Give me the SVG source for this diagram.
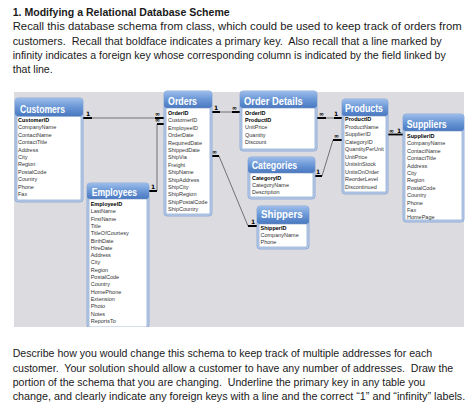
<svg xmlns="http://www.w3.org/2000/svg" width="474" height="411" viewBox="0 0 474 411">
<defs>
<linearGradient id="hg" x1="0" y1="0" x2="0" y2="1">
<stop offset="0" stop-color="#9dbdea"/>
<stop offset="0.5" stop-color="#6a97d6"/>
<stop offset="1" stop-color="#4a78c0"/>
</linearGradient>
<style>
.p{font-family:"Liberation Sans",Arial,sans-serif;font-size:11.2px;fill:#1a1a1a;white-space:pre}
.ps{font-size:10.6px}
.pb{font-family:"Liberation Sans",Arial,sans-serif;font-size:11.2px;font-weight:bold;fill:#1a1a1a}
.frame{fill:#c3d5ee;stroke:#7d9fd2;stroke-width:0.8}
.head{fill:url(#hg)}
.list{fill:#ffffff;stroke:#6f8fbf;stroke-width:0.6}
.ttl{font-family:"Liberation Sans",Arial,sans-serif;font-size:10.5px;font-weight:bold;fill:#ffffff}
.r{font-family:"Liberation Sans",Arial,sans-serif;font-size:5.5px;fill:#333333}
.k{font-family:"Liberation Sans",Arial,sans-serif;font-size:5.5px;font-weight:bold;fill:#000000}
.ln{fill:none;stroke:#555555;stroke-width:0.8}
.th{fill:none;stroke:#000000;stroke-width:1.8}
.m{font-family:"DejaVu Sans",sans-serif;font-size:6px;font-weight:bold;fill:#000000}
</style>
</defs>
<rect width="474" height="411" fill="#ffffff"/>
<g id="intro">
<text class="pb" x="12.7" y="15.5" textLength="217" lengthAdjust="spacingAndGlyphs">1. Modifying a Relational Database Scheme</text>
<text class="p" x="12.7" y="29.5" textLength="449" lengthAdjust="spacingAndGlyphs">Recall this database schema from class, which could be used to keep track of orders from</text>
<text class="p" x="12.7" y="44.5" textLength="429" lengthAdjust="spacingAndGlyphs" xml:space="preserve">customers.  Recall that boldface indicates a primary key.  Also recall that a line marked by</text>
<text class="p" x="12.7" y="58.5" textLength="433" lengthAdjust="spacingAndGlyphs">infinity indicates a foreign key whose corresponding column is indicated by the field linked by</text>
<text class="p" x="12.7" y="72.5" textLength="40" lengthAdjust="spacingAndGlyphs">that line.</text>
</g>
<rect id="canvas" x="14" y="92" width="450" height="235" fill="#dcdce0"/>
<g id="connectors">
<path class="ln" d="M83 118H164"/><path class="th" d="M83 118H92M155 118H164"/>
<text class="m" x="86" y="116">1</text><text class="m" x="155" y="116">∞</text>
<path class="ln" d="M149 191H157V124H164"/><path class="th" d="M149 191H157M157 124H164"/>
<text class="m" x="151" y="189">1</text><text class="m" x="155" y="122">∞</text>
<path class="ln" d="M212 112H240"/><path class="th" d="M212 112H220M232 112H240"/>
<text class="m" x="214" y="110">1</text><text class="m" x="232" y="110">∞</text>
<path class="ln" d="M317 118H342"/><path class="th" d="M317 118H326M334 118H342"/>
<text class="m" x="319" y="116">∞</text><text class="m" x="334" y="116">1</text>
<path class="ln" d="M315 176H322L333 140H342"/><path class="th" d="M315 176H322M333 140H342"/>
<text class="m" x="316" y="174">1</text><text class="m" x="334" y="138">∞</text>
<path class="ln" d="M212 156H219L248 226H257"/><path class="th" d="M212 156H219M248 226H257"/>
<text class="m" x="212" y="154">∞</text><text class="m" x="251" y="224">1</text>
<path class="ln" d="M388 134.5H403"/><path class="th" d="M388 134.5H403"/>
<text class="m" x="389" y="132.5">∞</text><text class="m" x="397" y="132.5">1</text>
</g>
<g id="customers">
<rect class="frame" x="15" y="98" width="68" height="104" rx="3"/>
<rect class="head" x="15" y="98" width="68" height="18" rx="3"/>
<text class="ttl" x="20" y="112.5" textLength="45" lengthAdjust="spacingAndGlyphs">Customers</text>
<rect class="list" x="17" y="116.5" width="64" height="83.5"/>
<text class="k" x="18" y="122">CustomerID</text>
<text class="r" x="18" y="129.4">CompanyName</text>
<text class="r" x="18" y="136.8">ContactName</text>
<text class="r" x="18" y="144.2">ContactTitle</text>
<text class="r" x="18" y="151.6">Address</text>
<text class="r" x="18" y="159">City</text>
<text class="r" x="18" y="166.4">Region</text>
<text class="r" x="18" y="173.8">PostalCode</text>
<text class="r" x="18" y="181.2">Country</text>
<text class="r" x="18" y="188.6">Phone</text>
<text class="r" x="18" y="196">Fax</text>
</g>
<g id="orders">
<rect class="frame" x="164" y="91" width="48" height="125" rx="3"/>
<rect class="head" x="164" y="91" width="48" height="17" rx="3"/>
<text class="ttl" x="168" y="105" textLength="29" lengthAdjust="spacingAndGlyphs">Orders</text>
<rect class="list" x="166" y="108" width="44" height="106"/>
<text class="k" x="168" y="115">OrderID</text>
<text class="r" x="168" y="122.4">CustomerID</text>
<text class="r" x="168" y="129.8">EmployeeID</text>
<text class="r" x="168" y="137.2">OrderDate</text>
<text class="r" x="168" y="144.6">RequiredDate</text>
<text class="r" x="168" y="152">ShippedDate</text>
<text class="r" x="168" y="159.4">ShipVia</text>
<text class="r" x="168" y="166.8">Freight</text>
<text class="r" x="168" y="174.2">ShipName</text>
<text class="r" x="168" y="181.6">ShipAddress</text>
<text class="r" x="168" y="189">ShipCity</text>
<text class="r" x="168" y="196.4">ShipRegion</text>
<text class="r" x="168" y="203.8">ShipPostalCode</text>
<text class="r" x="168" y="211.2">ShipCountry</text>
</g>
<g id="order-details">
<rect class="frame" x="240" y="91" width="77" height="60" rx="3"/>
<rect class="head" x="240" y="91" width="77" height="17" rx="3"/>
<text class="ttl" x="244" y="105" textLength="58.7" lengthAdjust="spacingAndGlyphs">Order Details</text>
<rect class="list" x="242" y="108" width="73" height="41"/>
<text class="k" x="245" y="115">OrderID</text>
<text class="k" x="245" y="122.2">ProductID</text>
<text class="r" x="245" y="129.4">UnitPrice</text>
<text class="r" x="245" y="136.6">Quantity</text>
<text class="r" x="245" y="143.8">Discount</text>
</g>
<g id="products">
<rect class="frame" x="342" y="99" width="46" height="95" rx="3"/>
<rect class="head" x="342" y="99" width="46" height="17" rx="3"/>
<text class="ttl" x="345" y="112" textLength="38" lengthAdjust="spacingAndGlyphs">Products</text>
<rect class="list" x="344" y="116" width="42" height="76"/>
<text class="k" x="345" y="121">ProductID</text>
<text class="r" x="345" y="128.5">ProductName</text>
<text class="r" x="345" y="136">SupplierID</text>
<text class="r" x="345" y="143.5">CategoryID</text>
<text class="r" x="345" y="151">QuantityPerUnit</text>
<text class="r" x="345" y="158.5">UnitPrice</text>
<text class="r" x="345" y="166">UnitsInStock</text>
<text class="r" x="345" y="173.5">UnitsOnOrder</text>
<text class="r" x="345" y="181">ReorderLevel</text>
<text class="r" x="345" y="188.5">Discontinued</text>
</g>
<g id="suppliers">
<rect class="frame" x="403" y="114" width="61" height="108" rx="3"/>
<rect class="head" x="403" y="114" width="61" height="17" rx="3"/>
<text class="ttl" x="406.7" y="128" textLength="40" lengthAdjust="spacingAndGlyphs">Suppliers</text>
<rect class="list" x="405" y="131" width="57" height="89"/>
<text class="k" x="407" y="138">SupplierID</text>
<text class="r" x="407" y="145.4">CompanyName</text>
<text class="r" x="407" y="152.8">ContactName</text>
<text class="r" x="407" y="160.2">ContactTitle</text>
<text class="r" x="407" y="167.6">Address</text>
<text class="r" x="407" y="175">City</text>
<text class="r" x="407" y="182.4">Region</text>
<text class="r" x="407" y="189.8">PostalCode</text>
<text class="r" x="407" y="197.2">Country</text>
<text class="r" x="407" y="204.6">Phone</text>
<text class="r" x="407" y="212">Fax</text>
<text class="r" x="407" y="219.4">HomePage</text>
</g>
<g id="categories">
<rect class="frame" x="248" y="157" width="67" height="42" rx="3"/>
<rect class="head" x="248" y="157" width="67" height="16" rx="3"/>
<text class="ttl" x="251.7" y="169" textLength="45.6" lengthAdjust="spacingAndGlyphs">Categories</text>
<rect class="list" x="250" y="173" width="63" height="24"/>
<text class="k" x="252" y="180">CategoryID</text>
<text class="r" x="252" y="187">CategoryName</text>
<text class="r" x="252" y="194">Description</text>
</g>
<g id="shippers">
<rect class="frame" x="257" y="206" width="52" height="43" rx="3"/>
<rect class="head" x="257" y="206" width="52" height="18" rx="3"/>
<text class="ttl" x="261" y="218" textLength="41.7" lengthAdjust="spacingAndGlyphs">Shippers</text>
<rect class="list" x="259" y="224" width="48" height="23"/>
<text class="k" x="260.5" y="229.5">ShipperID</text>
<text class="r" x="260.5" y="236.5">CompanyName</text>
<text class="r" x="260.5" y="243.5">Phone</text>
</g>
<g id="employees">
<rect class="frame" x="87" y="183" width="62" height="145" rx="3"/>
<rect class="head" x="87" y="183" width="62" height="16" rx="3"/>
<text class="ttl" x="91.7" y="196" textLength="45.3" lengthAdjust="spacingAndGlyphs">Employees</text>
<rect class="list" x="89" y="199" width="58" height="128"/>
<text class="k" x="90.7" y="206">EmployeeID</text>
<text class="r" x="90.7" y="213.3">LastName</text>
<text class="r" x="90.7" y="220.6">FirstName</text>
<text class="r" x="90.7" y="227.9">Title</text>
<text class="r" x="90.7" y="235.2">TitleOfCourtesy</text>
<text class="r" x="90.7" y="242.5">BirthDate</text>
<text class="r" x="90.7" y="249.8">HireDate</text>
<text class="r" x="90.7" y="257.1">Address</text>
<text class="r" x="90.7" y="264.4">City</text>
<text class="r" x="90.7" y="271.7">Region</text>
<text class="r" x="90.7" y="279">PostalCode</text>
<text class="r" x="90.7" y="286.3">Country</text>
<text class="r" x="90.7" y="293.6">HomePhone</text>
<text class="r" x="90.7" y="300.9">Extension</text>
<text class="r" x="90.7" y="308.2">Photo</text>
<text class="r" x="90.7" y="315.5">Notes</text>
<text class="r" x="90.7" y="322.8">ReportsTo</text>
</g>
<rect x="0" y="327" width="474" height="10" fill="#ffffff"/>
<g id="question">
<text class="p" x="12.7" y="356.5" textLength="419.5" lengthAdjust="spacingAndGlyphs">Describe how you would change this schema to keep track of multiple addresses for each</text>
<text class="p ps" x="12.7" y="371.5" textLength="440.5" lengthAdjust="spacingAndGlyphs" xml:space="preserve">customer.  Your solution should allow a customer to have any number of addresses.  Draw the</text>
<text class="p" x="12.7" y="385.5" textLength="412.5" lengthAdjust="spacingAndGlyphs" xml:space="preserve">portion of the schema that you are changing.  Underline the primary key in any table you</text>
<text class="p ps" x="12.7" y="399.5" textLength="452.5" lengthAdjust="spacingAndGlyphs">change, and clearly indicate any foreign keys with a line and the correct “1” and “infinity” labels.</text>
</g>
</svg>
